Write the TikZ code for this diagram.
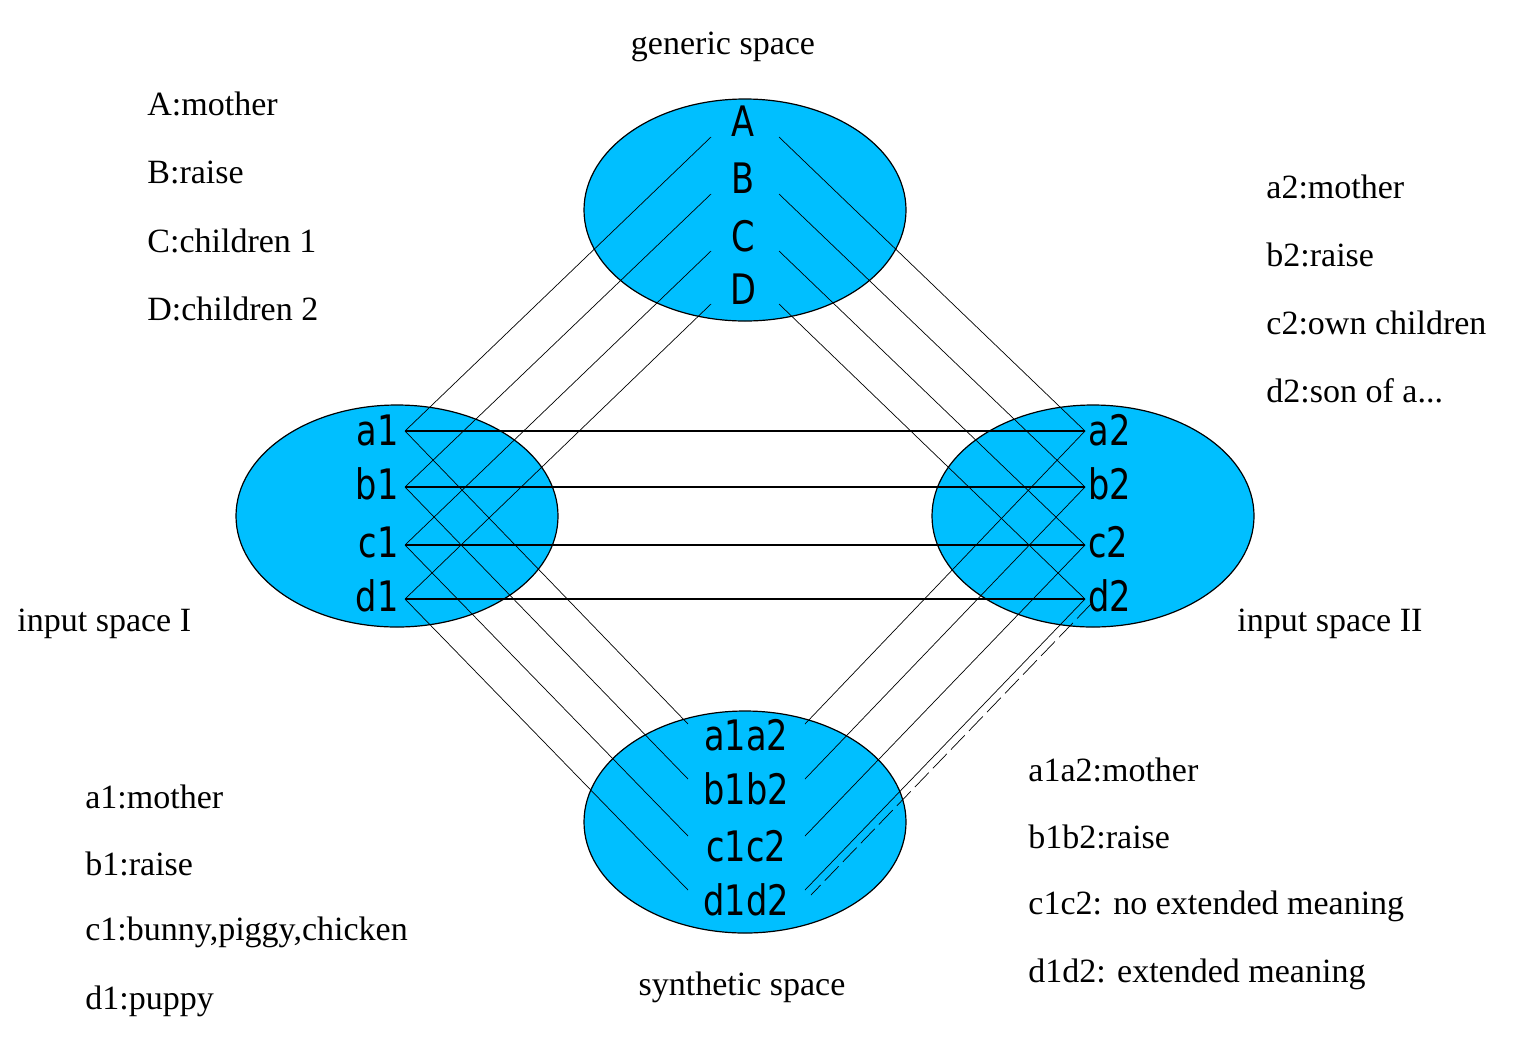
\documentclass[tikz,border=0pt]{standalone}
\usepackage{fontspec}
\setmainfont{Liberation Serif}
\newfontfamily\cadfont{DejaVu Sans}[FakeStretch=0.8]
\definecolor{sky}{RGB}{0,191,255}
\begin{document}
\begin{tikzpicture}[x=0.5pt,y=-0.5pt,
  sp/.style={draw=black,fill=sky,line width=0.6pt},
  txt/.style={font=\fontsize{17}{20}\selectfont,anchor=west,inner sep=0},
  ttl/.style={font=\fontsize{17}{20}\selectfont,inner sep=0},
  lab/.style={font=\cadfont\fontsize{21}{24}\selectfont,inner sep=0},
  ln/.style={line width=0.35pt},
  hl/.style={line width=0.6pt}]
\useasboundingbox (0,0) rectangle (1540,1045);
\draw[sp] (745,210) ellipse [x radius=161,y radius=111];
\draw[sp] (397,516) ellipse [x radius=161,y radius=111];
\draw[sp] (1093,516) ellipse [x radius=161,y radius=111];
\draw[sp] (745,822) ellipse [x radius=161,y radius=111];
% inner labels
\foreach \n/\y in {A/121,B/178,C/236,D/289}{\node[lab] (g\n) at (743,\y) {\n};}
\foreach \n/\y in {a1/430,b1/484,c1/542,d1/596}{\node[lab,anchor=east] (l\n) at (399,\y) {\n};}
\foreach \n/\y in {a2/430,b2/484,c2/542,d2/596}{\node[lab,anchor=west] (r\n) at (1088,\y) {\n};}
\foreach \n/\y in {a1a2/735,b1b2/789,c1c2/846,d1d2/900}{\node[lab] (s\n) at (746,\y) {\n};}
% coordinates
\foreach \i/\y in {1/137,2/194,3/251,4/304}{
  \coordinate (gl\i) at (711,\y); \coordinate (gr\i) at (779,\y);}
\foreach \i/\y in {1/431,2/487,3/545,4/599}{
  \coordinate (L\i) at (405,\y); \coordinate (R\i) at (1085,\y);}
\foreach \i/\y in {1/724,2/779,3/836,4/890}{
  \coordinate (bl\i) at (688,\y); \coordinate (br\i) at (805,\y);}
\foreach \i in {1,...,4}{
  \draw[ln] (gl\i) -- (L\i);
  \draw[ln] (gr\i) -- (R\i);
  \draw[hl] (L\i) -- (R\i);
  \draw[ln] (L\i) -- (bl\i);
  \draw[ln] (R\i) -- (br\i);}
\coordinate (dA) at (1091,604);
\coordinate (dB) at (811,895);
\draw[ln,dash pattern=on 10pt off 3pt] (dA) -- (dB);
% texts
\node[ttl] (t1) at (723,47) {generic space};
\node[ttl] (t2) at (742,987) {synthetic space};
\node[txt] (t3) at (17,624) {input space I};
\node[txt] (t4) at (1237,624) {input space II};
\node[txt] at (147,104) {A:mother};
\node[txt] at (147,172) {B:raise};
\node[txt] at (147,241) {C:children 1};
\node[txt] at (147,309) {D:children 2};
\node[txt] at (1266,187) {a2:mother};
\node[txt] at (1266,255) {b2:raise};
\node[txt] at (1266,323) {c2:own children};
\node[txt] at (1266,391) {d2:son of a...};
\node[txt] at (85,797) {a1:mother};
\node[txt] at (85,864) {b1:raise};
\node[txt] at (85,932) {c1:bunny,piggy,chicken};
\node[txt] at (85,1001) {d1:puppy};
\node[txt] at (1028,770) {a1a2:mother};
\node[txt] at (1028,837) {b1b2:raise};
\node[txt] at (1028,906) {c1c2: no extended meaning};
\node[txt] at (1028,974) {d1d2: extended meaning};
\end{tikzpicture}
\end{document}
